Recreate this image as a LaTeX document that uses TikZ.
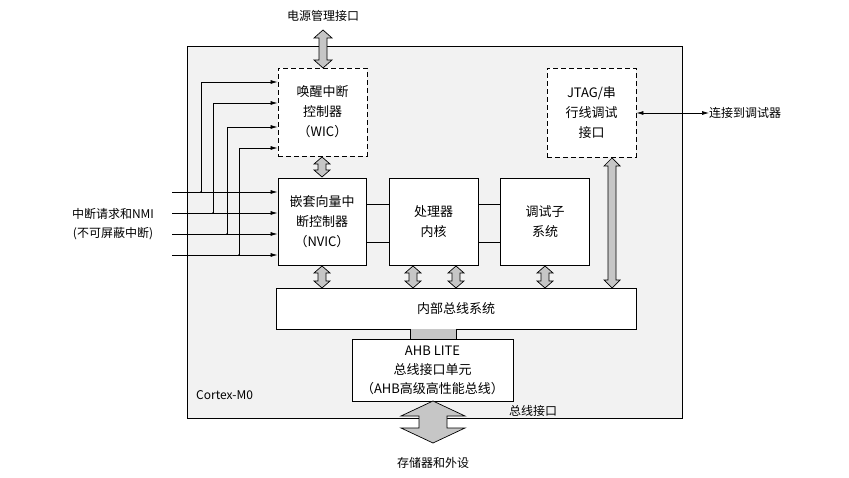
\documentclass[tikz,border=0pt]{standalone}
\usepackage{fontspec}
\setmainfont{Noto Sans CJK SC}
\usetikzlibrary{arrows.meta}
\tikzset{
  box/.style={draw,fill=white,line width=0.8pt,align=center,font=\fontsize{13}{20}\selectfont,inner sep=0pt},
  dbox/.style={box,dashed,dash pattern=on 5pt off 3pt},
  darr/.style={fill=gray!45,draw=black,line width=0.7pt},
  wire/.style={line width=0.7pt},
  inarr/.style={wire,-{Latex[length=7pt,width=4pt]}},
  lbl/.style={font=\fontsize{12}{19}\selectfont,align=center,inner sep=0pt}
}
\newcommand\vdarr[6]{\filldraw[darr] (#1,#2) -- ({#1+#5},{#2+#6}) -- ({#1+#4},{#2+#6}) -- ({#1+#4},{#3-#6}) -- ({#1+#5},{#3-#6}) -- (#1,#3) -- ({#1-#5},{#3-#6}) -- ({#1-#4},{#3-#6}) -- ({#1-#4},{#2+#6}) -- ({#1-#5},{#2+#6}) -- cycle;}
\begin{document}
\begin{tikzpicture}[x=1pt,y=-1pt]
\useasboundingbox (0,0) rectangle (849,478);
\node[draw,line width=0.8pt,fill=gray!10,minimum width=495pt,minimum height=372pt,inner sep=0pt] (core) at (434.5,232) {};
\node[dbox,minimum width=89pt,minimum height=88pt] (wic) at (322.5,112) {唤醒中断\\控制器\\（WIC）};
\node[box,minimum width=88pt,minimum height=87pt] (nvic) at (322,221.5) {嵌套向量中\\断控制器\\（NVIC）};
\node[box,minimum width=89pt,minimum height=87pt] (cpu) at (433.5,221.5) {处理器\\内核};
\node[box,minimum width=89pt,minimum height=87pt] (dbg) at (545,221.5) {调试子\\系统};
\node[dbox,minimum width=89pt,minimum height=89pt] (jtag) at (591.5,112.5) {JTAG/串\\行线调试\\接口};
\node[box,minimum width=360pt,minimum height=41pt] (bus) at (456,308.5) {内部总线系统};
\fill[gray!45] (410,329) rectangle (456,339);
\draw[line width=0.7pt] (410,329) -- (410,339) (456,329) -- (456,339);
\node[box,minimum width=161pt,minimum height=62pt,font=\fontsize{13}{19}\selectfont] (ahb) at (432.5,370) {AHB LITE\\总线接口单元\\（AHB高级高性能总线）};
% labels
\node[lbl] (pwr) at (323,16) {电源管理接口};
\node[lbl] (mem) at (433,463) {存储器和外设};
\node[lbl] (busif) at (533,411) {总线接口};
\node[lbl,anchor=west] (cm0) at (196,395) {Cortex-M0};
\node[lbl,anchor=west] (dbgr) at (709,113) {连接到调试器};
\node[lbl] (irq) at (113,224) {中断请求和NMI\\(不可屏蔽中断)};
% double arrows
\vdarr{323}{30}{68}{4}{9}{8}
\vdarr{322}{157}{177}{4}{8}{7}
\vdarr{322}{266}{288}{4}{8}{7}
\vdarr{413}{266}{288}{4}{8}{7}
\vdarr{456}{266}{288}{4}{8}{7}
\vdarr{545}{266}{288}{4}{8}{7}
\vdarr{612}{158}{288}{4}{8}{8}
\vdarr{433}{401}{443}{14}{32}{15}
% core interconnect
\draw[wire] (nvic.east |- 0,204) -- (cpu.west |- 0,204);
\draw[wire] (nvic.east |- 0,242) -- (cpu.west |- 0,242);
\draw[wire] (cpu.east |- 0,204) -- (dbg.west |- 0,204);
\draw[wire] (cpu.east |- 0,242) -- (dbg.west |- 0,242);
\draw[wire,{Latex[length=7pt,width=4pt]}-{Latex[length=7pt,width=4pt]}] (jtag.east |- 0,113) -- (dbgr.west);
% interrupt inputs
\foreach \y/\bx/\wy in {192/201/82, 213/213/103, 234/227/127, 255/239/148}{
  \draw[inarr] (172,\y) -- (nvic.west |- 0,\y);
  \draw[inarr] (\bx,\y) -- (\bx,\wy) -- (wic.west |- 0,\wy);
  \fill (\bx,\y) circle (0.9pt);
}
\end{tikzpicture}
\end{document}
